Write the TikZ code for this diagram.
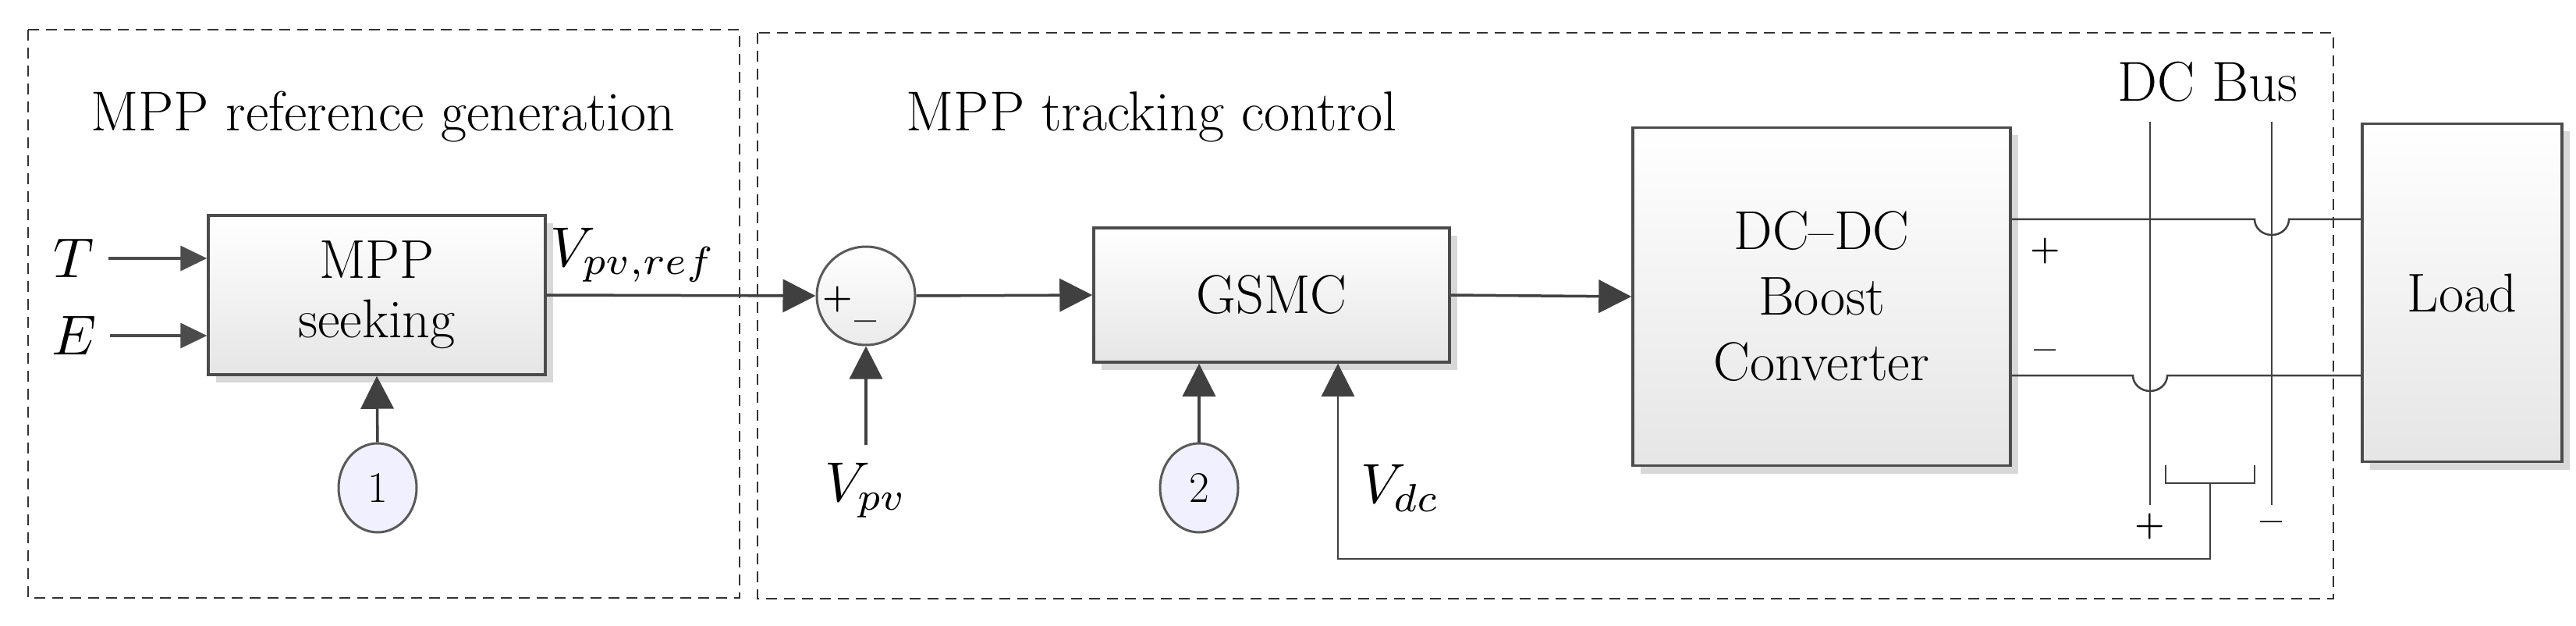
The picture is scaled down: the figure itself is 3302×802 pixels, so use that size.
\documentclass[tikz,border=0pt]{standalone}
\usetikzlibrary{arrows.meta,shadows,calc,shapes.geometric}
\newcommand\mlab[1]{\scalebox{7.2}{$#1$}}
\begin{document}
\begin{tikzpicture}[x=1pt,y=-1pt,
  txt/.style={font=\fontsize{72}{84}\selectfont},
  blk/.style={draw=black!70,line width=3.5pt,top color=white,bottom color=black!10,
    drop shadow={shadow xshift=10pt,shadow yshift=-10pt,fill=black!25,opacity=0.6},
    inner sep=0pt,align=center,font=\fontsize{70}{82}\selectfont},
  frame/.style={draw=black!80,line width=2.5pt,dash pattern=on 14pt off 9pt},
  wire/.style={line width=3.5pt,draw=black!75},
  arr/.style={wire,-{Triangle[length=42pt,width=42pt]}},
  sarr/.style={line width=3.5pt,draw=black!70,-{Triangle[length=34pt,width=32pt]}},
  num/.style={ellipse,draw=black!65,line width=3pt,fill=blue!6,minimum width=100pt,minimum height=114pt,inner sep=0pt,font=\fontsize{56}{60}\selectfont}
]
\useasboundingbox (0,0) rectangle (3302,802);
\fill[white] (0,0) rectangle (3302,802);
% frames
\draw[frame] (36,38) rectangle (948,766);
\draw[frame] (971,42) rectangle (2991,767);
\node[txt] (t1) at (491,150) {MPP reference generation};
\node[txt] (t2) at (1476,150) {MPP tracking control};
% blocks
\node[blk,minimum width=432pt,minimum height=204pt] (mpp) at (483,378) {MPP\\[-6pt]seeking};
\node[blk,minimum width=456pt,minimum height=172pt] (gsmc) at (1630,378) {GSMC};
\node[blk,minimum width=484pt,minimum height=433pt] (conv) at (2335,380) {DC--DC\\[2pt]Boost\\[2pt]Converter};
\node[blk,minimum width=256pt,minimum height=433pt] (load) at (3156,375) {Load};
% inputs
\node (T) at (95,331) {\mlab{T}};
\node (E) at (95,430) {\mlab{E}};
\coordinate (mppT) at (mpp.west |- T);
\coordinate (mppE) at (mpp.west |- E);
\draw[sarr] (T.east) ++(14,0) coordinate (Ts) -- (mppT);
\draw[sarr] (E.east) ++(14,0) coordinate (Es) -- (mppE);
\node[num] (c1) at (484,625) {1};
\draw[arr] (c1.north) -- (mpp.south);
% sum
\node[circle,draw=black!65,line width=3pt,top color=white,bottom color=black!8,minimum size=126pt,inner sep=0pt] (sum) at (1110,379) {};
\node[font=\fontsize{44}{44}\selectfont\bfseries] (sp) at (1074,384) {+};
\node[font=\fontsize{50}{50}\selectfont\bfseries] (sm) at (1110,418) {--};
\draw[arr] (mpp.east) -- (sum.west);
\node[anchor=south west,inner sep=0pt] (vref) at (705,362) {\mlab{V_{pv,ref}}};
\coordinate (vpvs) at (1110,570);
\draw[arr] (vpvs) -- (sum.south);
\node (vpv) at (1110,628) {\mlab{V_{pv}}};
\draw[arr] (sum.east) -- (gsmc.west);
\draw[arr] (gsmc.east) -- (conv.west);
% outputs
\coordinate (b1t) at (2756,156); \coordinate (b1b) at (2756,647);
\coordinate (b2t) at (2912,156); \coordinate (b2b) at (2912,647);
\draw[wire,line width=2.5pt] (b1t) -- (b1b);
\draw[wire,line width=2.5pt] (b2t) -- (b2b);
\draw[wire,line width=2.5pt] (conv.east |- 0,281) -- (2890,281) arc[start angle=180,end angle=0,x radius=22,y radius=20] -- (load.west |- 0,281);
\draw[wire,line width=2.5pt] (conv.east |- 0,481) -- (2734,481) arc[start angle=180,end angle=0,x radius=22,y radius=20] -- (load.west |- 0,481);
\node[txt] (dcbus) at (2830,105) {DC Bus};
\node[font=\fontsize{44}{44}\selectfont\bfseries] (pp) at (2622,322) {+};
\node[font=\fontsize{50}{50}\selectfont\bfseries] (pm) at (2622,455) {--};
\node[font=\fontsize{44}{44}\selectfont\bfseries] (bp) at (2756,675) {+};
\node[font=\fontsize{50}{50}\selectfont\bfseries] (bm) at (2912,675) {--};
% bracket and feedback
\coordinate (br) at (2833,619);
\draw[wire,line width=2.5pt] (2776,596) -- (2776,619) -- (2890,619) -- (2890,596);
\coordinate (fb1) at (2833,716);
\coordinate (gv) at (1715,716);
\draw[arr,line width=2.5pt] (br) -- (fb1) -- (gv) -- (gv |- gsmc.south);
\node (vdc) at (1795,625) {\mlab{V_{dc}}};
\node[num] (c2) at (1537,625) {2};
\draw[arr] (c2.north) -- (c2.north |- gsmc.south);
\end{tikzpicture}
\end{document}
